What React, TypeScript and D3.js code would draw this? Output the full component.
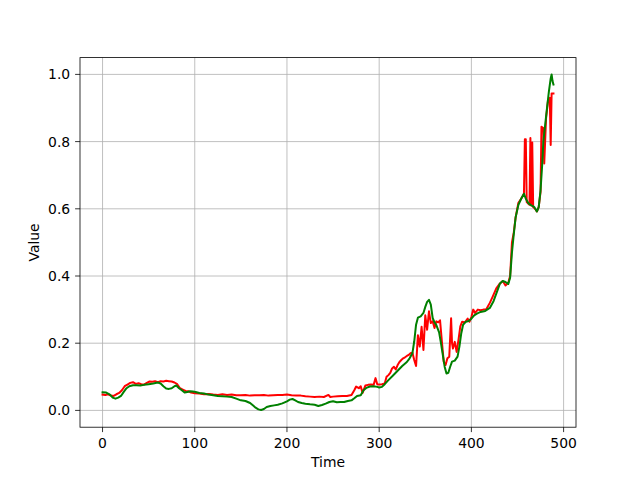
import * as d3 from 'd3'

// red series (time, value)
const redT = [
  0, 3, 6, 9, 12, 15, 18, 21, 24, 27, 30, 33, 36, 39, 42, 45, 48, 51, 54, 57, 60, 63, 66, 69, 72, 75, 78, 81,
  84, 87, 90, 93, 96, 100, 105, 110, 115, 120, 125, 130, 135, 140, 145, 150, 155, 160, 165, 170, 175, 180, 185,
  190, 195, 200, 205, 210, 215, 220, 225, 230, 235, 240, 245, 247, 250, 255, 260, 265, 270, 273, 275, 278, 280,
  282, 285, 288, 291, 294, 296, 298, 300, 303, 306, 308, 310, 312, 314, 316, 318, 320, 322, 324, 326, 328, 330,
  332, 334, 336, 338, 340, 342, 344, 346, 348, 350, 352, 354, 356, 358, 360, 362, 364, 366, 368, 370, 372, 374,
  376, 378, 379, 380, 382, 384, 386, 388, 390, 393, 396, 398, 400, 402, 404, 407, 410, 413, 416, 420, 423, 427,
  431, 434, 437, 440, 442, 444, 446, 448, 451, 454, 457, 458, 459, 460, 463, 464, 465, 466, 467, 469, 471, 473,
  475, 476, 478, 479, 481, 483, 485, 486, 487, 489,
]
const redV = [
  0.047, 0.046, 0.048, 0.044, 0.043, 0.048, 0.052, 0.06, 0.072, 0.077, 0.082, 0.084, 0.079, 0.081, 0.078, 0.077,
  0.082, 0.086, 0.085, 0.087, 0.084, 0.087, 0.086, 0.088, 0.087, 0.086, 0.083, 0.078, 0.066, 0.062, 0.058, 0.057,
  0.053, 0.051, 0.05, 0.048, 0.049, 0.047, 0.046, 0.048, 0.046, 0.047, 0.045, 0.045, 0.046, 0.044, 0.045, 0.045,
  0.046, 0.044, 0.045, 0.046, 0.046, 0.047, 0.045, 0.044, 0.044, 0.042, 0.041, 0.04, 0.041, 0.04, 0.046, 0.04,
  0.041, 0.042, 0.043, 0.043, 0.046, 0.06, 0.071, 0.066, 0.072, 0.052, 0.074, 0.076, 0.077, 0.076, 0.096, 0.077,
  0.077, 0.078, 0.08, 0.1, 0.105, 0.112, 0.125, 0.13, 0.122, 0.135, 0.144, 0.15, 0.155, 0.158, 0.162, 0.165, 0.17,
  0.172, 0.15, 0.132, 0.224, 0.19, 0.249, 0.18, 0.283, 0.24, 0.295, 0.26, 0.265, 0.245, 0.265, 0.262, 0.268,
  0.205, 0.145, 0.135, 0.155, 0.16, 0.274, 0.2, 0.184, 0.204, 0.174, 0.21, 0.25, 0.264, 0.262, 0.273, 0.264,
  0.278, 0.3, 0.29, 0.3, 0.298, 0.3, 0.3, 0.32, 0.338, 0.363, 0.378, 0.385, 0.372, 0.38, 0.4, 0.5, 0.53, 0.575,
  0.618, 0.63, 0.645, 0.807, 0.807, 0.62, 0.612, 0.811, 0.61, 0.797, 0.605, 0.6, 0.592, 0.605, 0.65, 0.844, 0.84,
  0.735, 0.87, 0.92, 0.93, 0.79, 0.943, 0.943,
]

// green series (time, value)
const greenT = [
  0, 4, 8, 11, 14, 17, 20, 23, 26, 29, 33, 37, 41, 45, 50, 55, 60, 63, 66, 69, 72, 75, 78, 80, 83, 86, 89, 92, 95,
  98, 101, 105, 110, 115, 120, 125, 130, 135, 140, 145, 150, 155, 160, 163, 166, 169, 172, 175, 178, 182, 186,
  190, 195, 200, 203, 206, 209, 212, 216, 220, 225, 230, 234, 238, 242, 246, 250, 254, 258, 262, 266, 270, 273,
  276, 280, 283, 286, 290, 294, 298, 300, 303, 306, 310, 315, 320, 325, 330, 333, 336, 338, 340, 342, 345, 348,
  350, 352, 354, 356, 358, 360, 362, 365, 367, 369, 371, 373, 375, 377, 379, 382, 385, 387, 389, 391, 394, 397,
  400, 403, 406, 410, 415, 420, 424, 428, 431, 434, 437, 440, 442, 444, 446, 448, 451, 454, 457, 459, 462, 465,
  468, 471, 473, 475, 477, 478, 480, 482, 484, 486, 487, 488, 489,
]
const greenV = [
  0.054, 0.053, 0.047, 0.038, 0.035, 0.038, 0.043, 0.055, 0.066, 0.072, 0.075, 0.075, 0.074, 0.076, 0.078, 0.08,
  0.083, 0.08, 0.072, 0.065, 0.064, 0.066, 0.072, 0.074, 0.066, 0.06, 0.053, 0.055, 0.057, 0.056, 0.055, 0.052,
  0.05, 0.047, 0.045, 0.043, 0.042, 0.041, 0.04, 0.035, 0.03, 0.028, 0.022, 0.015, 0.008, 0.003, 0.001, 0.004,
  0.01, 0.013, 0.015, 0.017, 0.021, 0.027, 0.032, 0.034, 0.03, 0.025, 0.022, 0.02, 0.018, 0.017, 0.013, 0.016,
  0.02, 0.025, 0.027, 0.024, 0.025, 0.025, 0.028, 0.03, 0.036, 0.043, 0.045, 0.06, 0.067, 0.071, 0.072, 0.07,
  0.068, 0.07, 0.078, 0.09, 0.104, 0.118, 0.132, 0.144, 0.155, 0.17, 0.205, 0.255, 0.276, 0.28, 0.29, 0.308,
  0.323, 0.329, 0.315, 0.275, 0.262, 0.254, 0.232, 0.2, 0.165, 0.13, 0.11, 0.112, 0.13, 0.145, 0.148, 0.16, 0.19,
  0.229, 0.255, 0.264, 0.266, 0.273, 0.283, 0.288, 0.293, 0.296, 0.305, 0.325, 0.355, 0.378, 0.385, 0.382, 0.376,
  0.395, 0.47, 0.525, 0.575, 0.612, 0.63, 0.645, 0.63, 0.616, 0.61, 0.606, 0.592, 0.605, 0.655, 0.74, 0.8, 0.85,
  0.9, 0.948, 0.988, 1.0, 0.98, 0.97,
]

const xTicks = [0, 100, 200, 300, 400, 500]
const yTicks = [0.0, 0.2, 0.4, 0.6, 0.8, 1.0]

const width = 640
const height = 480
const marginLeft = 80
const marginRight = 64
const marginTop = 57.6
const marginBottom = 52.8

export default function App() {
  const x = d3.scaleLinear([-24.45, 513.45], [marginLeft, width - marginRight])
  const y = d3.scaleLinear([-0.05, 1.05], [height - marginBottom, marginTop])

  const line = d3.line<[number, number]>()
    .x((d) => x(d[0]))
    .y((d) => y(d[1]))

  const red = redT.map((t, i) => [t, redV[i]] as [number, number])
  const green = greenT.map((t, i) => [t, greenV[i]] as [number, number])

  const font = 'DejaVu Sans, sans-serif'
  const plotBottom = height - marginBottom
  const plotRight = width - marginRight

  return (
    <svg width={width} height={height} style={{ position: 'absolute', left: 0, top: 0 }} fontFamily={font}>
      <rect width={width} height={height} fill="white" />
      {/* grid */}
      {xTicks.map((t) => (
        <line key={'gx' + t} x1={x(t)} x2={x(t)} y1={marginTop} y2={plotBottom} stroke="#b0b0b0" strokeWidth={0.8} />
      ))}
      {yTicks.map((t) => (
        <line key={'gy' + t} x1={marginLeft} x2={plotRight} y1={y(t)} y2={y(t)} stroke="#b0b0b0" strokeWidth={0.8} />
      ))}
      <defs>
        <clipPath id="plot">
          <rect x={marginLeft} y={marginTop} width={plotRight - marginLeft} height={plotBottom - marginTop} />
        </clipPath>
      </defs>
      <g clipPath="url(#plot)">
        <path d={line(red) as string} fill="none" stroke="#ff0000" strokeWidth={2} strokeLinejoin="round" strokeLinecap="square" />
        <path d={line(green) as string} fill="none" stroke="#008000" strokeWidth={2} strokeLinejoin="round" strokeLinecap="square" />
      </g>
      {/* frame */}
      <rect x={marginLeft} y={marginTop} width={plotRight - marginLeft} height={plotBottom - marginTop} fill="none" stroke="black" strokeWidth={0.8} />
      {/* x ticks */}
      {xTicks.map((t) => (
        <g key={'xt' + t} transform={`translate(${x(t)},${plotBottom})`}>
          <line y2={4.9} stroke="black" strokeWidth={0.8} />
          <text y={20.5} textAnchor="middle" fontSize={13.9} fill="black">{t}</text>
        </g>
      ))}
      {/* y ticks */}
      {yTicks.map((t) => (
        <g key={'yt' + t} transform={`translate(${marginLeft},${y(t)})`}>
          <line x2={-4.9} stroke="black" strokeWidth={0.8} />
          <text x={-9.8} dy="0.36em" textAnchor="end" fontSize={13.9} fill="black">{d3.format('.1f')(t)}</text>
        </g>
      ))}
      <text x={(marginLeft + plotRight) / 2} y={467} textAnchor="middle" fontSize={13.9} fill="black">Time</text>
      <text transform={`translate(39,${(marginTop + plotBottom) / 2}) rotate(-90)`} textAnchor="middle" fontSize={13.9} fill="black">Value</text>
    </svg>
  )
}
